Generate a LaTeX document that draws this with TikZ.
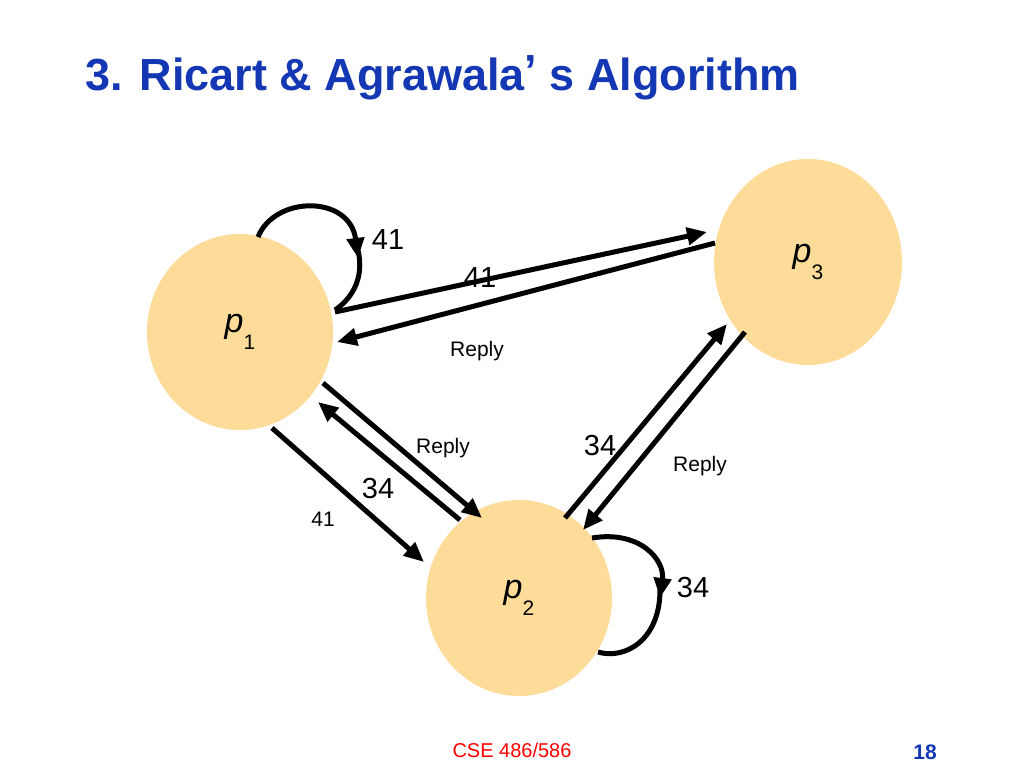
\documentclass[tikz,border=0pt]{standalone}
\usepackage{fontspec}
\setmainfont{Liberation Sans}
\usetikzlibrary{shapes.geometric,arrows.meta}
\definecolor{procfill}{HTML}{FDDC9A}
\definecolor{titleblue}{HTML}{1438B4}
\tikzset{
	proc/.style={ellipse, fill=procfill, minimum width=186pt, minimum height=196pt},
	msg/.style={line width=5pt, -{Triangle[length=20pt,width=17pt]}},
	big/.style={font=\fontsize{29}{29}\selectfont},
	small/.style={font=\fontsize{21}{21}\selectfont}
}
\newcommand{\procname}[1] % index
{\fontsize{34}{34}\selectfont\itshape p\raisebox{-17pt}{\fontsize{21}{21}\upshape\selectfont #1}}
\begin{document}
\begin{tikzpicture}[x=1pt, y=-1pt]
	\useasboundingbox (0,0) rectangle (1024,768);
	% title and footer
	\node[anchor=west, text=titleblue, font=\fontsize{45}{45}\bfseries\selectfont] (title) at (82,78) {3. Ricart \& Agrawala\raisebox{4pt}{’} s Algorithm};
	\node[text=red, font=\fontsize{20}{20}\selectfont] (course) at (512,750) {CSE 486/586};
	\node[text=titleblue, font=\fontsize{21}{21}\bfseries\rmfamily\selectfont] (page) at (925,752) {18};
	% processes
	\node[proc] (p1) at (240,332) {\procname{1}};
	\node[proc, minimum width=188pt, minimum height=206pt] (p3) at (808,262) {\procname{3}};
	\node[proc] (p2) at (519,598) {\procname{2}};
	% end points
	\coordinate (a1) at (335,312); \coordinate (a3) at (707,232);
	\coordinate (b3) at (715,243); \coordinate (b1) at (337,342);
	\coordinate (c1) at (323,383); \coordinate (c2) at (482,518);
	\coordinate (d2) at (460,520); \coordinate (d1) at (318,402);
	\coordinate (e1) at (272,428); \coordinate (e2) at (424,562);
	\coordinate (f2) at (565,518); \coordinate (f3) at (727,324);
	\coordinate (g3) at (745,332); \coordinate (g2) at (583,530);
	\coordinate (l1) at (258,237); \coordinate (l1end) at (335,310);
	\coordinate (l2) at (592,538); \coordinate (l2end) at (598,652);
	% messages
	\draw[msg] (a1) -- (a3);
	\draw[msg] (b3) -- (b1);
	\draw[msg] (c1) -- (c2);
	\draw[msg] (d2) -- (d1);
	\draw[msg] (e1) -- (e2);
	\draw[msg] (f2) -- (f3);
	\draw[msg] (g3) -- (g2);
	% self loops
	\draw[msg] (l1) .. controls (275,195) and (350,195) .. (358,258);
	\draw[line width=5pt] (358,250) .. controls (365,280) and (350,300) .. (l1end);
	\draw[msg] (l2) .. controls (640,530) and (665,560) .. (660,598);
	\draw[line width=5pt] (660,590) .. controls (660,640) and (625,660) .. (l2end);
	% labels
	\node[big] (n41a) at (388,240) {41};
	\node[big] (n41b) at (480,278) {41};
	\node[small] (r13) at (477,351) {Reply};
	\node[small] (r12) at (443,448) {Reply};
	\node[big] (n34a) at (378,489) {34};
	\node[small] (n41c) at (323,519) {41};
	\node[big] (n34b) at (600,446) {34};
	\node[small] (r23) at (700,466) {Reply};
	\node[big] (n34c) at (693,588) {34};
\end{tikzpicture}
\end{document}
